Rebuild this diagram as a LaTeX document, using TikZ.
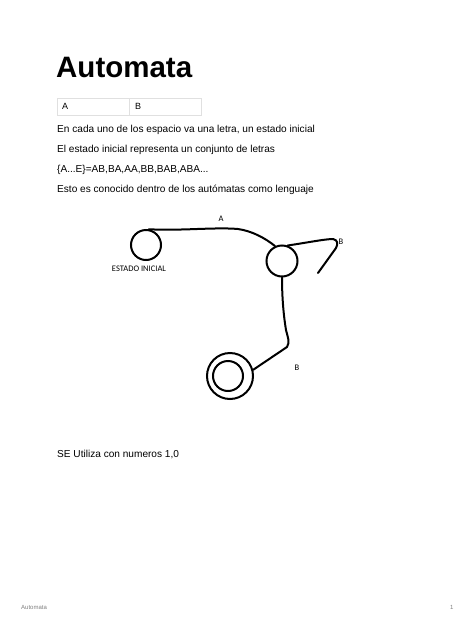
\documentclass[tikz,border=0pt]{standalone}
\usepackage{fontspec}
\setmainfont{Liberation Sans}
\newfontfamily\hand{Carlito}
\begin{document}
\begin{tikzpicture}[x=1pt,y=-1pt,
  body/.style={anchor=base west,inner sep=0pt,font=\fontsize{10.1}{12}\selectfont},
  cell/.style={draw=black!12,line width=0.5pt,minimum height=17pt,anchor=north west,inner sep=0pt},
  celltext/.style={anchor=west,inner sep=0pt,font=\fontsize{9}{10}\selectfont},
  ink/.style={line width=2pt,line cap=round,line join=round},
  state/.style={circle,draw,line width=2pt,inner sep=0pt},
  lbl/.style={font=\hand\fontsize{8.5}{9}\selectfont,inner sep=0pt},
  foot/.style={font=\fontsize{6}{7}\selectfont,text=black!50,inner sep=0pt,anchor=base west}]
\useasboundingbox[fill=white] (0,0) rectangle (474,632);
\node[anchor=base west,inner sep=0pt,font=\bfseries\fontsize{29.5}{32}\selectfont] (title) at (56,77) {Automata};
\node[cell,minimum width=72pt] (c1) at (57,98) {};
\node[cell,minimum width=72pt] (c2) at (129,98) {};
\node[celltext] (ca) at (62,106.5) {A};
\node[celltext] (cb) at (135,106.5) {B};
\node[body] (t1) at (57,132) {En cada uno de los espacio va una letra, un estado inicial};
\node[body] (t2) at (57,152) {El estado inicial representa un conjunto de letras};
\node[body] (t3) at (57,172) {\{A...E\}=AB,BA,AA,BB,BAB,ABA...};
\node[body] (t4) at (57,192) {Esto es conocido dentro de los autómatas como lenguaje};
% diagram
\node[state,minimum size=30pt] (s0) at (146,245) {};
\node[state,minimum size=31pt] (s1) at (282,261) {};
\node[state,minimum size=46pt] (s2) at (230,376) {};
\node[state,minimum size=30pt] (s2i) at (228,376) {};
\node[lbl] (la) at (221,219) {A};
\node[lbl] (lb1) at (341,242) {B};
\node[lbl] (lb2) at (297,368) {B};
\node[lbl] (l0) at (139,269) {ESTADO INICIAL};
\coordinate (e1) at (318,273);
\draw[ink] (s0.80) .. controls (180,231) and (215,227) .. (238,229) .. controls (252,231) and (265,238) .. (s1.115);
\draw[ink] (s1.70) .. controls (305,243) and (325,239) .. (333,239) .. controls (338,240) and (338,244) .. (336,248) -- (e1);
\draw[ink] (s1.south) .. controls (282,300) and (284,318) .. (286,330) .. controls (288,338) and (290,342) .. (287,347) -- (s2.15);
% footer
\node[foot] (f1) at (21,609) {Automata};
\node[foot] (f2) at (450,609) {1};
\node[body] (t5) at (57,457) {SE Utiliza con numeros 1,0};
\end{tikzpicture}
\end{document}
